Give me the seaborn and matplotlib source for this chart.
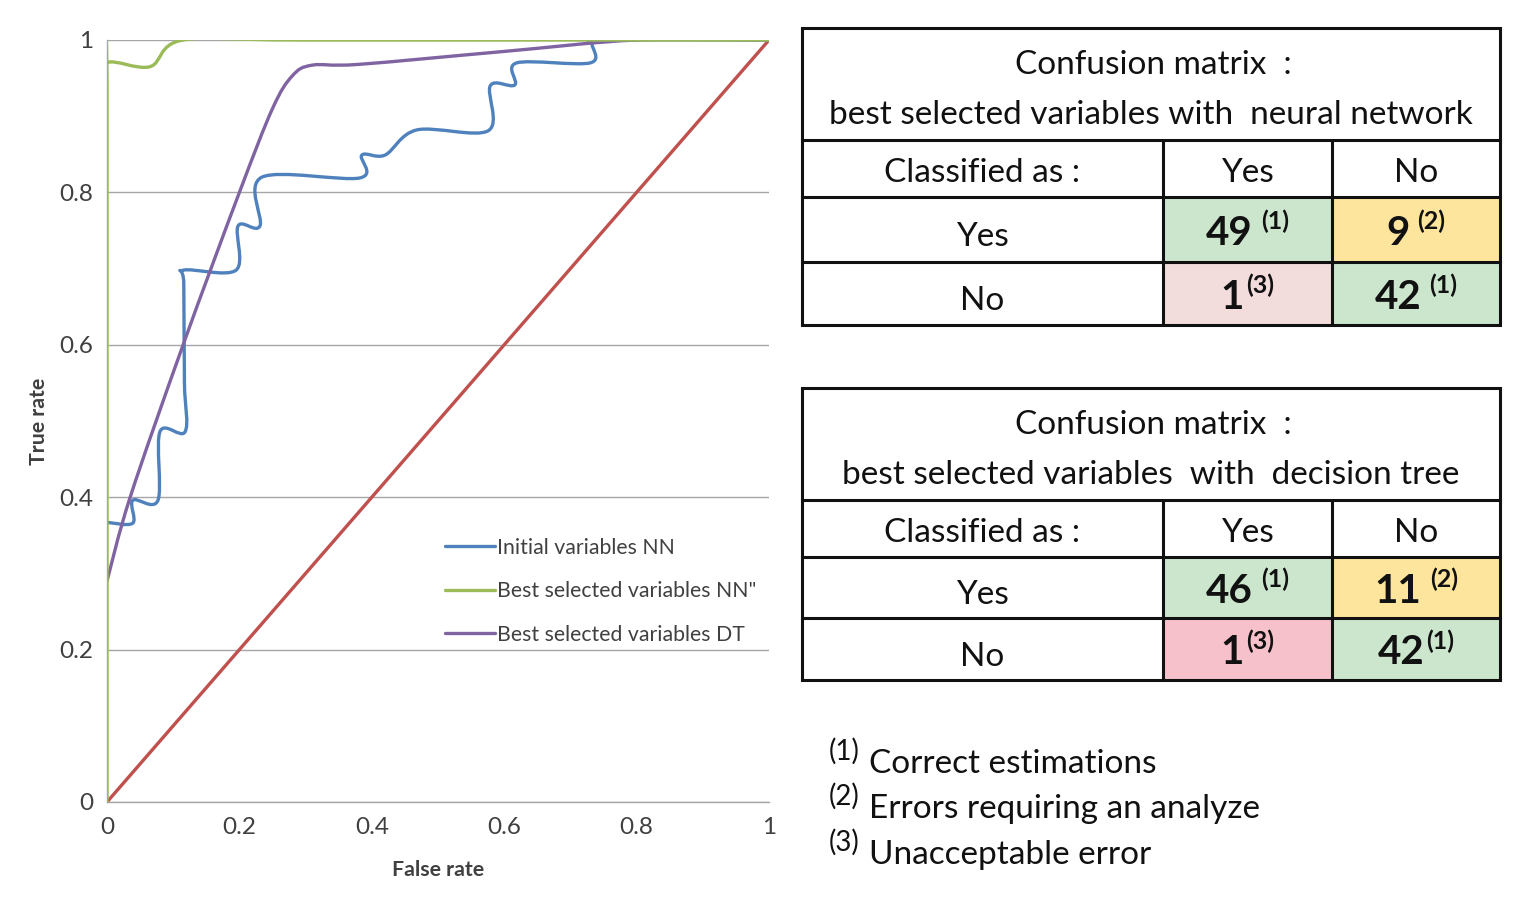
import numpy as np
import matplotlib
matplotlib.use("Agg")
import matplotlib.pyplot as plt
from matplotlib.path import Path
from matplotlib.patches import PathPatch, Rectangle
from matplotlib.lines import Line2D
import seaborn as sns
import pandas as pd

# ROC points (Excel "smoothed line" series)
init_nn_x = [0.0, 0.039, 0.039, 0.077, 0.080, 0.118, 0.117, 0.116, 0.116, 0.195, 0.198, 0.231,
             0.234, 0.382, 0.385, 0.420, 0.468, 0.576, 0.579, 0.616, 0.619, 0.730, 0.733, 0.75, 1.0]
init_nn_y = [0.367, 0.366, 0.396, 0.396, 0.486, 0.486, 0.55, 0.68, 0.698, 0.698, 0.756, 0.756,
             0.820, 0.819, 0.849, 0.849, 0.882, 0.881, 0.940, 0.941, 0.970, 0.970, 0.996, 1.0, 1.0]
best_nn_x = [0.0, 0.0, 0.0, 0.065, 0.115, 0.3, 1.0]
best_nn_y = [0.0, 0.93, 0.97, 0.965, 1.0, 1.0, 1.0]
best_dt_x = [0.0, 0.035, 0.115, 0.20, 0.25, 0.28, 0.31, 0.38, 0.60, 0.80, 1.0]
best_dt_y = [0.29, 0.40, 0.60, 0.80, 0.91, 0.953, 0.967, 0.968, 0.985, 1.0, 1.0]
chance_x = [0.0, 1.0]
chance_y = [0.0, 1.0]

series_names = ["Initial variables NN", "Best selected variables NN\"", "Best selected variables DT"]
series_colors = ["#4F81BD", "#9BBB59", "#8064A2"]
chance_color = "#C0504D"

tick_vals = [0, 0.2, 0.4, 0.6, 0.8, 1]
tick_labels = ["0", "0.2", "0.4", "0.6", "0.8", "1"]

# confusion matrices
nn_title = ["Confusion matrix  :", "best selected variables with  neural network"]
dt_title = ["Confusion matrix  :", "best selected variables  with  decision tree"]
col_labels = ["Classified as :", "Yes", "No"]
row_labels = ["Yes", "No"]
nn_counts = [[49, 9], [1, 42]]
dt_counts = [[46, 11], [1, 42]]
cell_notes = [["(1)", "(2)"], ["(3)", "(1)"]]
nn_gaps = [[9, 7], [2, 8]]
dt_gaps = [[9, 9], [2, 1]]
footnotes = [("(1)", "Correct estimations"),
             ("(2)", "Errors requiring an analyze"),
             ("(3)", "Unacceptable error")]

green = "#CCE5CD"
yellow = "#FDE59D"
pink_nn = "#F2DCDC"
pink_dt = "#F7C1CB"

sns.set_theme(style="white")
plt.rcParams['font.family'] = ['Lato', 'DejaVu Sans']

fig = plt.figure(figsize=(15.29, 8.98), dpi=100)
W, H = 1529, 898
ax = fig.add_axes([107 / W, 1 - 802 / H, 662 / W, 762 / H])


def smooth_path(xs, ys):
    # bezier control points like Excel's smoothed lines
    pts = np.column_stack([xs, ys]).astype(float)
    verts = [pts[0]]
    codes = [Path.MOVETO]
    n = len(pts)
    for i in range(n - 1):
        p0 = pts[i - 1] if i > 0 else pts[i]
        p1 = pts[i]
        p2 = pts[i + 1]
        p3 = pts[i + 2] if i + 2 < n else pts[i + 1]
        verts += [p1 + (p2 - p0) / 6, p2 - (p3 - p1) / 6, p2]
        codes += [Path.CURVE4] * 3
    return Path(verts, codes)


df_chance = pd.DataFrame({"x": chance_x, "y": chance_y})
sns.lineplot(data=df_chance, x="x", y="y", ax=ax, color=chance_color, lw=2.4, zorder=3)

for xs, ys, c in [(init_nn_x, init_nn_y, series_colors[0]),
                  (best_dt_x, best_dt_y, series_colors[2]),
                  (best_nn_x, best_nn_y, series_colors[1])]:
    ax.add_patch(PathPatch(smooth_path(xs, ys), facecolor="none", edgecolor=c,
                           lw=2.4, zorder=4, capstyle="round", joinstyle="round"))

ax.set_xlim(0, 1)
ax.set_ylim(0, 1)
ax.set_xticks(tick_vals)
ax.set_xticklabels(tick_labels)
ax.set_yticks(tick_vals)
ax.set_yticklabels(tick_labels)
ax.tick_params(length=0, labelsize=17.5, labelcolor="#404040", pad=10)
ax.tick_params(axis="x", pad=11)
ax.yaxis.grid(True, color="#A6A6A6", lw=1)
ax.xaxis.grid(False)
for side in ["top", "right"]:
    ax.spines[side].set_visible(False)
for side in ["left", "bottom"]:
    ax.spines[side].set_color("#A6A6A6")
    ax.spines[side].set_linewidth(1)

ax.set_xlabel("False rate", fontsize=15.3, weight="bold", color="#404040")
ax.set_ylabel("True rate", fontsize=15.3, weight="bold", color="#404040")
ax.xaxis.set_label_coords(0.5, -0.076)
ax.yaxis.set_label_coords(-0.088, 0.50)

handles = [Line2D([], [], color=c, lw=2.4) for c in series_colors]
leg = ax.legend(handles, series_names, loc="upper left", bbox_to_anchor=(0.511, 0.347),
                frameon=False, fontsize=15.3, handlelength=2.35, handletextpad=0.1,
                labelspacing=1.11, borderaxespad=0, borderpad=0)
for t in leg.get_texts():
    t.set_color("#404040")

# tables drawn in pixel coordinates on an overlay axes
tab = fig.add_axes([0, 0, 1, 1])
tab.set_xlim(0, W)
tab.set_ylim(H, 0)
tab.axis("off")
renderer = fig.canvas.get_renderer()

col_x = [802, 1163, 1332, 1500]


def num_with_note(xc, yc, num, note, gap):
    t1 = tab.text(xc, yc, str(num), fontsize=29, weight="bold", ha="left", va="center", color="#111111")
    t2 = tab.text(xc, yc - 12, note, fontsize=18, weight="bold", ha="left", va="center", color="#111111")
    w1 = t1.get_window_extent(renderer).width
    w2 = t2.get_window_extent(renderer).width
    left = xc - (w1 + gap + w2) / 2
    t1.set_x(left)
    t2.set_x(left + w1 + gap)


def draw_table(rows_y, title, counts, gaps, pink):
    fills = {"(1)": green, "(2)": yellow, "(3)": pink}
    for r in range(2):
        for c in range(2):
            x0, x1 = col_x[c + 1], col_x[c + 2]
            y0, y1 = rows_y[r + 2], rows_y[r + 3]
            tab.add_patch(Rectangle((x0, y0), x1 - x0, y1 - y0,
                                    facecolor=fills[cell_notes[r][c]], edgecolor="none", zorder=1))
            num_with_note((x0 + x1) / 2, (y0 + y1) / 2 + 4, counts[r][c], cell_notes[r][c], gaps[r][c])
        tab.text((col_x[0] + col_x[1]) / 2, (rows_y[r + 2] + rows_y[r + 3]) / 2 + 8,
                 row_labels[r], fontsize=24, ha="center", va="center", color="#111111")
    # title
    tab.text((col_x[0] + col_x[3]) / 2 + 2, rows_y[0] + 37, title[0], fontsize=24,
             ha="center", va="center", color="#111111")
    tab.text((col_x[0] + col_x[3]) / 2, rows_y[0] + 87, title[1], fontsize=24,
             ha="center", va="center", color="#111111")
    # header row
    yh = (rows_y[1] + rows_y[2]) / 2 + 4
    for c, lab in enumerate(col_labels):
        tab.text((col_x[c] + col_x[c + 1]) / 2, yh, lab, fontsize=24,
                 ha="center", va="center", color="#111111")
    # grid lines
    for y in rows_y:
        tab.plot([col_x[0], col_x[3]], [y, y], color="#111111", lw=2.2, zorder=3,
                 solid_capstyle="projecting")
    for x in [col_x[0], col_x[3]]:
        tab.plot([x, x], [rows_y[0], rows_y[-1]], color="#111111", lw=2.2, zorder=3)
    for x in col_x[1:3]:
        tab.plot([x, x], [rows_y[1], rows_y[-1]], color="#111111", lw=2.2, zorder=3)


draw_table([28, 140, 197, 262, 325], nn_title, nn_counts, nn_gaps, pink_nn)
draw_table([388, 500, 557, 618, 680], dt_title, dt_counts, dt_gaps, pink_dt)

for i, (note, txt) in enumerate(footnotes):
    y = 764 + i * 45.5
    tab.text(829, y - 13, note, fontsize=20, ha="left", va="center", color="#111111")
    tab.text(869, y, txt, fontsize=24, ha="left", va="center", color="#111111")

fig.savefig("out.png", dpi=100)
